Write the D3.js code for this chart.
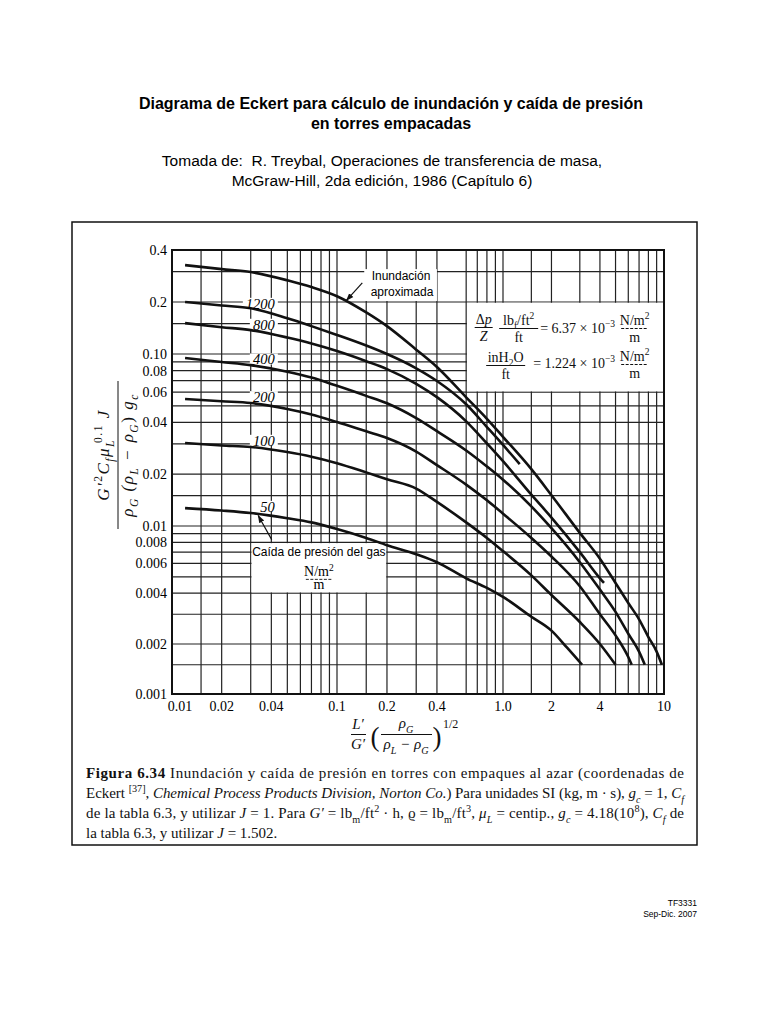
<!DOCTYPE html>
<html>
<head>
<meta charset="utf-8">
<script src="https://cdn.jsdelivr.net/npm/d3@7"></script>
<style>
  body { margin: 0; background: #fff; }
  svg { display: block; }
</style>
</head>
<body>
<svg id="chart" width="768" height="1024"></svg>
<script>
// grid lines (values on each log axis)
var xGrid = [0.015, 0.02, 0.03, 0.04, 0.05, 0.06, 0.07, 0.08, 0.09, 0.1, 0.15, 0.2, 0.3, 0.4,
             0.6, 0.7, 0.8, 0.9, 1, 1.5, 2, 3, 4, 5, 6, 7, 8, 9];
var yGrid = [0.3, 0.2, 0.15, 0.1, 0.09, 0.08, 0.07, 0.06, 0.05, 0.04, 0.03, 0.02, 0.015,
             0.01, 0.009, 0.008, 0.007, 0.006, 0.005, 0.004, 0.003, 0.002, 0.0015];

// tick labels
var xTickVals = [0.01, 0.02, 0.04, 0.1, 0.2, 0.4, 1, 2, 4, 10];
var xTickText = ["0.01", "0.02", "0.04", "0.1", "0.2", "0.4", "1.0", "2", "4", "10"];
var yTickVals = [0.4, 0.2, 0.1, 0.08, 0.06, 0.04, 0.02, 0.01, 0.008, 0.006, 0.004, 0.002, 0.001];
var yTickText = ["0.4", "0.2", "0.10", "0.08", "0.06", "0.04", "0.02", "0.01", "0.008", "0.006", "0.004", "0.002", "0.001"];

// approximate flooding line
var floodX = [0.012, 0.02, 0.03, 0.05, 0.07, 0.1, 0.15, 0.2, 0.3, 0.4, 0.6, 0.8, 1.0, 1.5, 2, 3, 4, 5, 6, 7, 8, 9, 9.7];
var floodY = [0.327, 0.31, 0.298, 0.267, 0.244, 0.216, 0.174, 0.145, 0.106, 0.084, 0.056, 0.042, 0.033,
              0.0214, 0.0151, 0.0091, 0.0064, 0.0046, 0.0035, 0.0028, 0.0022, 0.0018, 0.0015];

// gas pressure drop lines, N/m2 per m
var dp1200X = [0.012, 0.02, 0.03, 0.05, 0.07, 0.1, 0.15, 0.2, 0.3, 0.4, 0.6, 0.8, 1.0, 1.27];
var dp1200Y = [0.200, 0.191, 0.184, 0.161, 0.145, 0.129, 0.112, 0.100, 0.0826, 0.0697, 0.051, 0.0376, 0.0296, 0.0229];

var dp800X = [0.012, 0.02, 0.03, 0.05, 0.07, 0.1, 0.15, 0.2, 0.3, 0.4, 0.6, 0.8, 1.0, 1.5, 2, 3, 4, 4.24];
var dp800Y = [0.151, 0.143, 0.1375, 0.1245, 0.115, 0.104, 0.0908, 0.0817, 0.0671, 0.0561, 0.0406, 0.0302,
              0.0238, 0.0152, 0.0112, 0.0070, 0.0049, 0.0046];

var dp400X = [0.012, 0.02, 0.03, 0.05, 0.07, 0.1, 0.15, 0.2, 0.3, 0.4, 0.6, 0.8, 1.0, 1.5, 2, 3, 4, 5, 6, 7, 7.6];
var dp400Y = [0.0948, 0.0899, 0.0862, 0.0789, 0.0729, 0.0653, 0.0571, 0.0517, 0.0424, 0.0356, 0.0275, 0.0222,
              0.0186, 0.0130, 0.0097, 0.0061, 0.0042, 0.0031, 0.0023, 0.0018, 0.0015];

var dp200X = [0.012, 0.02, 0.03, 0.05, 0.07, 0.1, 0.15, 0.2, 0.3, 0.4, 0.6, 0.8, 1.0, 1.5, 2, 3, 4, 5, 6, 6.3];
var dp200Y = [0.0547, 0.0531, 0.0519, 0.0479, 0.0445, 0.0402, 0.0355, 0.0325, 0.0271, 0.0226, 0.0174, 0.0141,
              0.0118, 0.0085, 0.0066, 0.0044, 0.0030, 0.00225, 0.00167, 0.0015];

var dp100X = [0.012, 0.02, 0.03, 0.05, 0.07, 0.1, 0.15, 0.2, 0.3, 0.4, 0.6, 0.8, 1.0, 1.5, 2, 3, 4, 5];
var dp100Y = [0.0304, 0.0294, 0.0288, 0.0269, 0.0253, 0.0232, 0.0205, 0.0187, 0.0165, 0.0138, 0.0105, 0.0085,
              0.0071, 0.0051, 0.0039, 0.0027, 0.0020, 0.0015];

var dp50X = [0.012, 0.02, 0.03, 0.05, 0.07, 0.1, 0.15, 0.2, 0.3, 0.4, 0.6, 0.8, 1.0, 1.5, 2, 2.5, 3.1];
var dp50Y = [0.0127, 0.0123, 0.0119, 0.0111, 0.0105, 0.0096, 0.0085, 0.0077, 0.0068, 0.0061, 0.0049, 0.0043,
             0.0038, 0.0029, 0.0024, 0.0019, 0.0015];

var svg = d3.select("svg#chart");
var serif = "'Liberation Serif', 'DejaVu Serif', serif";
var sans = "'Liberation Sans', Arial, sans-serif";
var ink = "#111";

// the scanned chart is not quite uniform, so the log axes are piecewise
var x = d3.scaleLog().domain([0.01, 0.1, 1, 10]).range([172, 337, 503, 664]);
var y = d3.scaleLog().domain([0.4, 0.1, 0.01, 0.002, 0.001]).range([250, 354, 526, 644, 694]);

function zip(xs, ys) {
  return xs.map(function(v, i) { return [v, ys[i]]; });
}

// log-log interpolation along a curve
function valueAt(xs, ys, v) {
  for (var i = 0; i < xs.length - 1; i++) {
    if (v >= xs[i] && v <= xs[i + 1]) {
      var t = Math.log(v / xs[i]) / Math.log(xs[i + 1] / xs[i]);
      return Math.exp(Math.log(ys[i]) + t * Math.log(ys[i + 1] / ys[i]));
    }
  }
  return ys[ys.length - 1];
}

// appends tspans; parts = [text, "b i sub sup", dx]
function rich(sel, parts, fs) {
  var shift = 0;
  parts.forEach(function(p) {
    var tok = (p[1] || "").split(" ");
    var target = tok.indexOf("sub") >= 0 ? 0.3 * fs : (tok.indexOf("sup") >= 0 ? -0.4 * fs : 0);
    var ts = sel.append("tspan").text(p[0]).attr("dy", target - shift);
    if (p[2]) ts.attr("dx", p[2]);
    shift = target;
    if (target !== 0) ts.attr("font-size", fs * 0.68);
    if (tok.indexOf("b") >= 0) ts.attr("font-weight", "bold");
    if (tok.indexOf("i") >= 0) ts.attr("font-style", "italic");
  });
  return sel;
}

// ---- header ----
svg.append("text").attr("x", 391).attr("y", 109).attr("text-anchor", "middle")
  .attr("font-family", sans).attr("font-weight", "bold").attr("font-size", 16)
  .text("Diagrama de Eckert para cálculo de inundación y caída de presión");
svg.append("text").attr("x", 391).attr("y", 129).attr("text-anchor", "middle")
  .attr("font-family", sans).attr("font-weight", "bold").attr("font-size", 16)
  .text("en torres empacadas");
svg.append("text").attr("x", 382).attr("y", 166).attr("text-anchor", "middle")
  .attr("font-family", sans).attr("font-size", 15.5).style("white-space", "pre")
  .text("Tomada de:  R. Treybal, Operaciones de transferencia de masa,");
svg.append("text").attr("x", 382).attr("y", 186).attr("text-anchor", "middle")
  .attr("font-family", sans).attr("font-size", 15.5)
  .text("McGraw-Hill, 2da edición, 1986 (Capítulo 6)");

// frame around the figure
svg.append("rect").attr("x", 72).attr("y", 222).attr("width", 625).attr("height", 623)
  .attr("fill", "none").attr("stroke", ink).attr("stroke-width", 1.5);

var defs = svg.append("defs");
defs.append("marker").attr("id", "arrow").attr("viewBox", "0 0 10 10")
  .attr("refX", 9).attr("refY", 5).attr("markerWidth", 8).attr("markerHeight", 8)
  .attr("orient", "auto").attr("markerUnits", "userSpaceOnUse")
  .append("path").attr("d", "M0,1.5 L10,5 L0,8.5 Z").attr("fill", ink);

// ---- grid ----
var grid = svg.append("g").attr("stroke", "#222").attr("stroke-width", 1.2);
grid.selectAll("line.v").data(xGrid).join("line").attr("class", "v")
  .attr("x1", function(d) { return x(d); }).attr("x2", function(d) { return x(d); })
  .attr("y1", y(0.4)).attr("y2", y(0.001));
grid.selectAll("line.h").data(yGrid).join("line").attr("class", "h")
  .attr("y1", function(d) { return y(d); }).attr("y2", function(d) { return y(d); })
  .attr("x1", x(0.01)).attr("x2", x(10));

// white panels cut out of the grid
var formulaBox = { x0: 0.6, x1: 10, y0: 0.2, y1: 0.06 };
var dropBox = { x0: 0.03, x1: 0.2, y0: 0.008, y1: 0.004 };
[formulaBox, dropBox].forEach(function(b) {
  svg.append("rect").attr("x", x(b.x0) + 0.8).attr("y", y(b.y0) + 0.8)
    .attr("width", x(b.x1) - x(b.x0) - 1.6).attr("height", y(b.y1) - y(b.y0) - 1.6)
    .attr("fill", "#fff");
});
svg.append("rect").attr("x", x(0.15) - 2).attr("y", y(0.31))
  .attr("width", x(0.4) - x(0.15) + 2).attr("height", y(0.2) - y(0.31) - 1)
  .attr("fill", "#fff");

svg.append("rect").attr("x", x(0.01)).attr("y", y(0.4))
  .attr("width", x(10) - x(0.01)).attr("height", y(0.001) - y(0.4))
  .attr("fill", "none").attr("stroke", ink).attr("stroke-width", 2);

// ---- tick labels ----
svg.append("g").selectAll("text").data(yTickVals).join("text")
  .attr("x", 167).attr("y", function(d) { return y(d); }).attr("dy", "0.35em")
  .attr("text-anchor", "end").attr("font-family", serif).attr("font-size", 14)
  .text(function(d, i) { return yTickText[i]; });
svg.append("g").selectAll("text").data(xTickVals).join("text")
  .attr("x", function(d, i) { return x(d) + (i === 0 ? 8 : 0); }).attr("y", 711)
  .attr("text-anchor", "middle").attr("font-family", serif).attr("font-size", 14)
  .text(function(d, i) { return xTickText[i]; });

// ---- curves ----
var curves = [
  { xs: floodX, ys: floodY, label: null },
  { xs: dp1200X, ys: dp1200Y, label: "1200" },
  { xs: dp800X, ys: dp800Y, label: "800" },
  { xs: dp400X, ys: dp400Y, label: "400" },
  { xs: dp200X, ys: dp200Y, label: "200" },
  { xs: dp100X, ys: dp100Y, label: "100" },
  { xs: dp50X, ys: dp50Y, label: "50" }
];

var labelAt = 0.042;
var labelled = curves.filter(function(c) { return c.label; });

// white behind the italic numbers, over the grid
svg.append("g").selectAll("rect").data(labelled).join("rect")
  .attr("x", function(c) { return x(labelAt) - (c.label.length * 7 + 4); })
  .attr("y", function(c) { return y(valueAt(c.xs, c.ys, 0.036)) - 14; })
  .attr("width", function(c) { return c.label.length * 7 + 7; })
  .attr("height", 11)
  .attr("fill", "#fff");

var line = d3.line()
  .x(function(d) { return x(d[0]); })
  .y(function(d) { return y(d[1]); })
  .curve(d3.curveMonotoneX);

svg.append("g").selectAll("path").data(curves).join("path")
  .attr("d", function(c) { return line(zip(c.xs, c.ys)); })
  .attr("fill", "none").attr("stroke", ink).attr("stroke-width", 2.6);

svg.append("g").selectAll("text").data(labelled).join("text")
  .attr("x", x(labelAt))
  .attr("y", function(c) { return y(valueAt(c.xs, c.ys, 0.036)) - 3; })
  .attr("text-anchor", "end").attr("font-family", serif).attr("font-style", "italic")
  .attr("font-size", 14.5)
  .text(function(c) { return c.label; });

// ---- annotations ----
var floodNote = { tail: [0.142, 0.258], tipX: 0.114 };
svg.append("line")
  .attr("x1", x(floodNote.tail[0])).attr("y1", y(floodNote.tail[1]))
  .attr("x2", x(floodNote.tipX)).attr("y2", y(valueAt(floodX, floodY, floodNote.tipX)) - 1)
  .attr("stroke", ink).attr("stroke-width", 1.2).attr("marker-end", "url(#arrow)");
svg.append("text").attr("x", 401).attr("y", 280).attr("text-anchor", "middle")
  .attr("font-family", sans).attr("font-size", 12).text("Inundación");
svg.append("text").attr("x", 402).attr("y", 296).attr("text-anchor", "middle")
  .attr("font-family", sans).attr("font-size", 12).text("aproximada");

var dropNote = { tail: [0.0402, 0.0083], tipX: 0.0333 };
svg.append("line")
  .attr("x1", x(dropNote.tail[0])).attr("y1", y(dropNote.tail[1]))
  .attr("x2", x(dropNote.tipX)).attr("y2", y(valueAt(dp50X, dp50Y, dropNote.tipX)) + 1.5)
  .attr("stroke", ink).attr("stroke-width", 1.2).attr("marker-end", "url(#arrow)");

var dcx = (x(dropBox.x0) + x(dropBox.x1)) / 2;
var dby = y(dropBox.y0);
svg.append("text").attr("x", dcx).attr("y", dby + 14).attr("text-anchor", "middle")
  .attr("font-family", sans).attr("font-size", 12).text("Caída de presión del gas");
rich(svg.append("text").attr("x", dcx).attr("y", dby + 34).attr("text-anchor", "middle")
  .attr("font-family", serif).attr("font-size", 14), [["N/m"], ["2", "sup"]], 14);
svg.append("line").attr("x1", dcx - 13).attr("x2", dcx + 13).attr("y1", dby + 37).attr("y2", dby + 37)
  .attr("stroke", ink).attr("stroke-width", 0.9).attr("stroke-dasharray", "3,1.5");
svg.append("text").attr("x", dcx).attr("y", dby + 47).attr("text-anchor", "middle")
  .attr("font-family", serif).attr("font-size", 14).text("m");

// ---- unit conversions panel ----
var bx = x(formulaBox.x0), by = y(formulaBox.y0);
var fbox = svg.append("g").attr("font-family", serif).attr("font-size", 14).attr("fill", ink);

function fracAt(cx, yNum, num, den, half, dashed) {
  rich(fbox.append("text").attr("x", bx + cx).attr("y", by + yNum).attr("text-anchor", "middle"), num, 14);
  fbox.append("line").attr("x1", bx + cx - half).attr("x2", bx + cx + half)
    .attr("y1", by + yNum + 3.5).attr("y2", by + yNum + 3.5)
    .attr("stroke", ink).attr("stroke-width", 1)
    .attr("stroke-dasharray", dashed ? "3,1.5" : null);
  rich(fbox.append("text").attr("x", bx + cx).attr("y", by + yNum + 17).attr("text-anchor", "middle"), den, 14);
}

fracAt(17.5, 22, [["Δ"], ["p", "i"]], [["Z", "i"]], 9, false);
fracAt(52.5, 23, [["lb"], ["f", "sub"], ["/ft"], ["2", "sup"]], [["ft"]], 19.5, false);
rich(fbox.append("text").attr("x", bx + 74).attr("y", by + 31),
  [["= 6.37 × 10"], ["−3", "sup"]], 14);
fracAt(168.5, 23, [["N/m"], ["2", "sup"]], [["m"]], 13.5, true);

fracAt(39.5, 60, [["inH"], ["2", "sub"], ["O"]], [["ft"]], 19.5, false);
rich(fbox.append("text").attr("x", bx + 67).attr("y", by + 66),
  [["= 1.224 × 10"], ["−3", "sup"]], 14);
fracAt(168.5, 59, [["N/m"], ["2", "sup"]], [["m"]], 13.5, true);

// ---- axis titles ----
var yTitle = svg.append("g").attr("transform", "translate(118,455) rotate(-90)")
  .attr("font-family", serif).attr("font-size", 17).attr("fill", ink);
rich(yTitle.append("text").attr("x", 0).attr("y", -9).attr("text-anchor", "middle")
  .attr("letter-spacing", 1.5),
  [["G′", "i"], ["2", "sup"], ["C", "i"], ["f", "i sub"], ["μ", "i"], ["L", "i sub"], ["0.1", "sup", -4], [" J", "i"]], 17);
yTitle.append("line").attr("x1", -74).attr("x2", 74).attr("y1", 0).attr("y2", 0)
  .attr("stroke", ink).attr("stroke-width", 1);
rich(yTitle.append("text").attr("x", 0).attr("y", 15).attr("text-anchor", "middle")
  .attr("letter-spacing", 1.5),
  [["ρ", "i"], ["G", "i sub"], [" (ρ", "i"], ["L", "i sub"], [" − ρ", "i"], ["G", "i sub"], [")"], [" g", "i"], ["c", "i sub"]], 17);

var xTitle = svg.append("g").attr("font-family", serif).attr("font-size", 15).attr("fill", ink);
xTitle.append("text").attr("x", 358).attr("y", 729).attr("text-anchor", "middle")
  .attr("font-style", "italic").text("L′");
xTitle.append("line").attr("x1", 351).attr("x2", 366).attr("y1", 734.5).attr("y2", 734.5)
  .attr("stroke", ink).attr("stroke-width", 1);
xTitle.append("text").attr("x", 358).attr("y", 749).attr("text-anchor", "middle")
  .attr("font-style", "italic").text("G′");
xTitle.append("text").attr("x", 375).attr("y", 746).attr("text-anchor", "middle")
  .attr("font-size", 27).text("(");
rich(xTitle.append("text").attr("x", 406).attr("y", 728).attr("text-anchor", "middle"),
  [["ρ", "i"], ["G", "i sub"]], 15);
xTitle.append("line").attr("x1", 381).attr("x2", 432).attr("y1", 734.5).attr("y2", 734.5)
  .attr("stroke", ink).attr("stroke-width", 1);
rich(xTitle.append("text").attr("x", 406).attr("y", 749).attr("text-anchor", "middle"),
  [["ρ", "i"], ["L", "i sub"], [" − ρ", "i"], ["G", "i sub"]], 15);
xTitle.append("text").attr("x", 437).attr("y", 746).attr("text-anchor", "middle")
  .attr("font-size", 27).text(")");
xTitle.append("text").attr("x", 443).attr("y", 728).attr("font-size", 12).text("1/2");

// ---- caption ----
var cap = svg.append("g").attr("font-family", serif).attr("font-size", 15).attr("fill", ink);
var capLines = [
  [["Figura 6.34", "b"], ["  Inundación y caída de presión en torres con empaques al azar (coordenadas de"]],
  [["Eckert "], ["[37]", "sup"], [", "], ["Chemical Process Products Division, Norton Co.", "i"],
   [") Para unidades SI (kg, m · s), "], ["g", "i"], ["c", "i sub"], [" = 1, "], ["C", "i"], ["f", "i sub"]],
  [["de la tabla 6.3, y utilizar "], ["J", "i"], [" = 1. Para "], ["G′", "i"], [" = lb"], ["m", "sub"],
   ["/ft"], ["2", "sup"], [" · h, ϱ = lb"], ["m", "sub"], ["/ft"], ["3", "sup"], [", "], ["μ", "i"], ["L", "i sub"],
   [" = centip., "], ["g", "i"], ["c", "i sub"], [" = 4.18(10"], ["8", "sup"], ["), "], ["C", "i"], ["f", "i sub"], [" de"]],
  [["la tabla 6.3, y utilizar "], ["J", "i"], [" = 1.502."]]
];
capLines.forEach(function(parts, i) {
  var t = cap.append("text").attr("x", 86).attr("y", 778 + i * 20);
  if (i < 3) t.attr("textLength", 598).attr("lengthAdjust", "spacing");
  rich(t, parts, 15);
});

// ---- footer ----
svg.append("text").attr("x", 697).attr("y", 906).attr("text-anchor", "end")
  .attr("font-family", sans).attr("font-size", 8.5).text("TF3331");
svg.append("text").attr("x", 697).attr("y", 917).attr("text-anchor", "end")
  .attr("font-family", sans).attr("font-size", 8.5).text("Sep-Dic. 2007");
</script>
</body>
</html>
